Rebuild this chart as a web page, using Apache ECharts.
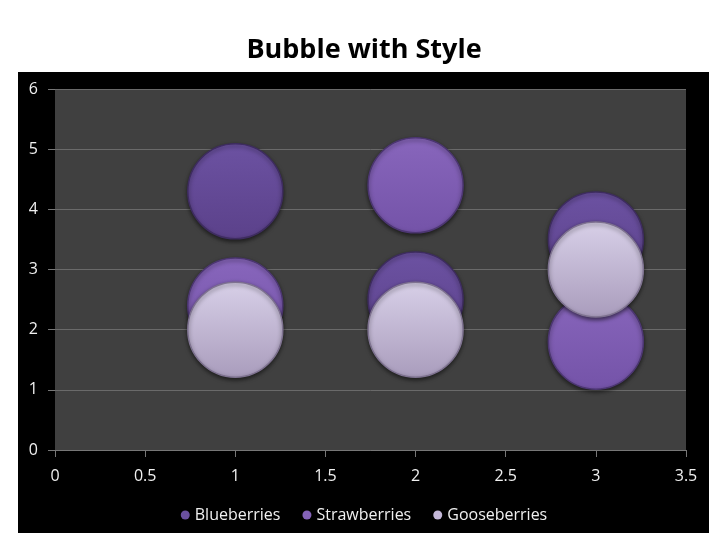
<!DOCTYPE html>
<html>
<head>
<meta charset="utf-8">
<script src="https://cdn.jsdelivr.net/npm/echarts@6/dist/echarts.min.js"></script>
<style>
html,body{margin:0;padding:0;background:#fff;}
#main{width:728px;height:546px;}
</style>
</head>
<body>
<div id="main"></div>
<script>
var seriesNames = ['Blueberries', 'Strawberries', 'Gooseberries'];
var xValues = [1, 2, 3];
var blueberriesY = [4.3, 2.5, 3.5];
var strawberriesY = [2.4, 4.4, 1.8];
var gooseberriesY = [2.0, 2.0, 3.0];
var blueberriesSize = [1, 1, 1];
var strawberriesSize = [1, 1, 1];
var gooseberriesSize = [1, 1, 1];
var xTicks = [0, 0.5, 1, 1.5, 2, 2.5, 3, 3.5];
var yTicks = [0, 1, 2, 3, 4, 5, 6];

var chart = echarts.init(document.getElementById('main'));

function grad(top, bottom) {
  return new echarts.graphic.LinearGradient(0, 0, 0, 1, [
    {offset: 0, color: top}, {offset: 1, color: bottom}
  ]);
}
var styles = [
  {fill: grad('#6c52a2', '#5b418a'), border: '#3e2c60', legend: '#6a509f'},
  {fill: grad('#8866bc', '#7453a8'), border: '#4c3672', legend: '#8462b8'},
  {fill: grad('#d8d0e8', '#a99cbc'), border: '#7e7290', legend: '#c4b8d8'}
];
var ys = [blueberriesY, strawberriesY, gooseberriesY];
var sizes = [blueberriesSize, strawberriesSize, gooseberriesSize];

var series = seriesNames.map(function (name, i) {
  return {
    name: name,
    type: 'scatter',
    data: xValues.map(function (x, j) { return [x, ys[i][j], sizes[i][j]]; }),
    symbolSize: function (d) { return 95 * d[2]; },
    itemStyle: {
      color: styles[i].fill,
      borderColor: styles[i].border,
      borderWidth: 1.5,
      shadowColor: 'rgba(0,0,0,0.55)',
      shadowBlur: 4,
      shadowOffsetY: 2,
      opacity: 1
    },
    emphasis: {disabled: true},
    z: 2 + i
  };
});

chart.setOption({
  animation: false,
  backgroundColor: '#ffffff',
  title: {
    text: 'Bubble with Style',
    left: 'center',
    top: 32,
    textStyle: {fontFamily: 'Open Sans', fontWeight: 'bold', fontSize: 27, color: '#000'}
  },
  graphic: [{
    type: 'rect',
    shape: {x: 18, y: 72, width: 691, height: 461},
    style: {fill: '#000000'},
    z: -10,
    silent: true
  }],
  grid: {
    left: 55, right: 42, top: 89, bottom: 96,
    show: true, backgroundColor: '#404040', borderWidth: 0
  },
  legend: {
    data: seriesNames.map(function (n, i) {
      return {name: n, itemStyle: {color: styles[i].legend, borderWidth: 0, shadowBlur: 0}};
    }),
    bottom: 18,
    left: 'center',
    icon: 'circle',
    itemWidth: 9,
    itemHeight: 9,
    itemGap: 22,
    textStyle: {color: '#f0f0f0', fontFamily: 'Open Sans', fontSize: 16}
  },
  xAxis: {
    type: 'value',
    min: 0, max: 3.5, interval: 0.5,
    axisLine: {show: true, lineStyle: {color: '#777', width: 1}},
    axisTick: {show: true, length: 7, lineStyle: {color: '#777'}},
    splitLine: {show: false},
    axisLabel: {
      color: '#f0f0f0', fontFamily: 'Open Sans', fontSize: 16, margin: 18,
      formatter: function (v) { return xTicks.indexOf(v) >= 0 ? String(v) : ''; }
    }
  },
  yAxis: {
    type: 'value',
    min: 0, max: 6, interval: 1,
    axisLine: {show: false},
    axisTick: {show: true, length: 7, lineStyle: {color: '#777'}},
    splitLine: {show: true, lineStyle: {color: '#6a6a6a', width: 1}},
    axisLabel: {
      color: '#f0f0f0', fontFamily: 'Open Sans', fontSize: 16, margin: 17,
      formatter: function (v) { return yTicks.indexOf(v) >= 0 ? String(v) : ''; }
    }
  },
  series: series
});
</script>
</body>
</html>
